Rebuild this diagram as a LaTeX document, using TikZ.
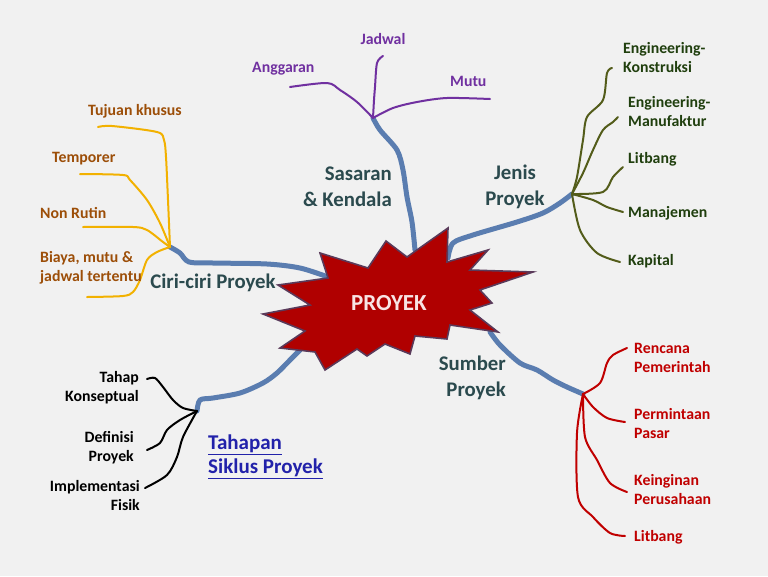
\documentclass[tikz,border=0pt]{standalone}
\usepackage{fontspec}
\setmainfont{Carlito}
\definecolor{bgc}{HTML}{F1F1F1}
\definecolor{trunkc}{HTML}{5A7DB0}
\definecolor{yel}{HTML}{F2B100}
\definecolor{brownt}{HTML}{9C4E08}
\definecolor{purp}{HTML}{7030A0}
\definecolor{olivel}{HTML}{535C1A}
\definecolor{greent}{HTML}{203F0E}
\definecolor{redc}{HTML}{C00000}
\definecolor{mainc}{HTML}{2B4A4E}
\definecolor{starfill}{HTML}{B00000}
\definecolor{starline}{HTML}{5A3A5A}
\definecolor{proyekt}{HTML}{F8E4E4}
\definecolor{linkc}{HTML}{2222AA}
\begin{document}
\begin{tikzpicture}[x=1pt,y=-1pt,
  trunk/.style={line width=5pt, draw=trunkc, line cap=round, line join=round},
  twig/.style={line width=2pt, line cap=round, line join=round},
  leaf/.style={font=\bfseries\fontsize{15.8}{19}\selectfont, inner sep=0pt},
  mainlab/.style={font=\bfseries\fontsize{20.8}{26}\selectfont, text=mainc, inner sep=0pt},
]
\fill[bgc] (0,0) rectangle (768,576);
\useasboundingbox (0,0) rectangle (768,576);

% hubs
\coordinate (hubY) at (170,247);
\coordinate (hubP) at (373,118);
\coordinate (hubG) at (572,194);
\coordinate (hubK) at (197,411);
\coordinate (hubR) at (583,394);
% trunk ends at the star
\coordinate (sY) at (328,277);
\coordinate (sP) at (415,250);
\coordinate (sG) at (448,258);
\coordinate (sR) at (490,332);
\coordinate (sK) at (300,350);

% trunks
\draw[trunk] plot[smooth, tension=0.5] coordinates {(hubY) (180,253) (189,262) (213,263) (267,264) (300,268) (sY)};
\draw[trunk] plot[smooth, tension=0.5] coordinates {(hubP) (380,130) (397,150) (403,170) (407,197) (412,222) (sP)};
\draw[trunk] plot[smooth, tension=0.5] coordinates {(hubG) (560,203) (543,213) (517,222) (473,235) (453,243) (sG)};
\draw[trunk] plot[smooth, tension=0.5] coordinates {(hubR) (567,387) (553,380) (537,370) (520,363) (500,345) (sR)};
\draw[trunk] plot[smooth, tension=0.5] coordinates {(hubK) (200,400) (213,398) (240,393) (263,383) (277,373) (290,360) (sK)};

% leaf end points
\coordinate (eY1) at (98,127);
\coordinate (eY2) at (80,174);
\coordinate (eY3) at (83,227);
\coordinate (eY4) at (87,297);
\coordinate (eP1) at (290,87);
\coordinate (eP2) at (383,56);
\coordinate (eP3) at (490,99);
\coordinate (eG1) at (612,68);
\coordinate (eG2) at (618,117);
\coordinate (eG3) at (623,167);
\coordinate (eG4) at (623,212);
\coordinate (eG5) at (620,262);
\coordinate (eR1) at (627,348);
\coordinate (eR2) at (625,422);
\coordinate (eR3) at (627,492);
\coordinate (eR4) at (625,536);
\coordinate (eK1) at (147,379);
\coordinate (eK2) at (147,450);
\coordinate (eK3) at (145,488);

% yellow twigs
\draw[twig, yel] plot[smooth, tension=0.5] coordinates {(hubY) (168,200) (166,157) (164,140) (157,132) (112,126) (eY1)};
\draw[twig, yel] plot[smooth, tension=0.5] coordinates {(hubY) (160,223) (147,200) (130,180) (123,175) (eY2)};
\draw[twig, yel] plot[smooth, tension=0.5] coordinates {(hubY) (163,242) (147,230) (133,227) (eY3)};
\draw[twig, yel] plot[smooth, tension=0.5] coordinates {(hubY) (157,252) (147,260) (140,280) (133,292) (123,296) (eY4)};
% purple twigs
\draw[twig, purp] plot[smooth, tension=0.5] coordinates {(hubP) (357,102) (340,90) (327,83) (eP1)};
\draw[twig, purp] plot[smooth, tension=0.5] coordinates {(hubP) (374,100) (375,87) (377,63) (eP2)};
\draw[twig, purp] plot[smooth, tension=0.5] coordinates {(hubP) (393,108) (417,102) (447,98) (eP3)};
% olive twigs
\draw[twig, olivel] plot[smooth, tension=0.5] coordinates {(hubG) (577,177) (583,140) (587,117) (603,100) (607,73) (eG1)};
\draw[twig, olivel] plot[smooth, tension=0.5] coordinates {(hubG) (583,173) (593,150) (603,130) (613,122) (eG2)};
\draw[twig, olivel] plot[smooth, tension=0.5] coordinates {(hubG) (603,192) (613,177) (eG3)};
\draw[twig, olivel] plot[smooth, tension=0.5] coordinates {(hubG) (593,200) (607,207) (eG4)};
\draw[twig, olivel] plot[smooth, tension=0.5] coordinates {(hubG) (580,230) (597,253) (eG5)};
% red twigs
\draw[twig, redc] plot[smooth, tension=0.5] coordinates {(hubR) (600,383) (607,363) (613,355) (eR1)};
\draw[twig, redc] plot[smooth, tension=0.5] coordinates {(hubR) (593,407) (607,418) (eR2)};
\draw[twig, redc] plot[smooth, tension=0.5] coordinates {(hubR) (585,437) (597,460) (610,483) (eR3)};
\draw[twig, redc] plot[smooth, tension=0.5] coordinates {(hubR) (577,433) (578,497) (593,517) (610,533) (eR4)};
% black twigs
\draw[twig, black] plot[smooth, tension=0.5] coordinates {(hubK) (183,408) (173,400) (163,387) (155,378) (eK1)};
\draw[twig, black] plot[smooth, tension=0.5] coordinates {(hubK) (180,420) (167,430) (160,443) (eK2)};
\draw[twig, black] plot[smooth, tension=0.5] coordinates {(hubK) (183,437) (177,457) (167,475) (eK3)};

% star
\draw[fill=starfill, draw=starline, line width=1.6pt, line join=miter]
 (320,253) -- (368,268) -- (386,241) -- (407,257) -- (448,228) -- (447,262) --
 (488,250) -- (470,270) -- (533,272) -- (480,290) -- (492,303) -- (470,310) --
 (498,332) -- (450,325) -- (447,339) -- (415,336) -- (410,354) -- (385,344) --
 (367,356) -- (357,349) -- (325,370) -- (315,352) -- (280,348) -- (305,331) --
 (263,314) -- (310,305) -- (278,285) -- (328,278) -- cycle;
\node[font=\bfseries\fontsize{23}{26}\selectfont, text=proyekt, inner sep=0pt] (proyek) at (389,303) {PROYEK};

% main labels
\node[mainlab, anchor=center] (ciri) at (213,283) {Ciri-ciri Proyek};
\node[mainlab, anchor=east, align=right] (sasaran) at (392,187) {Sasaran\\\& Kendala};
\node[mainlab, anchor=center, align=center] (jenis) at (515,187) {Jenis\\Proyek};
\node[mainlab, anchor=east, align=right] (sumber) at (506,378) {Sumber\\Proyek};
\node[font=\bfseries\fontsize{21}{24}\selectfont, text=linkc, inner sep=0pt, anchor=west, align=left] (tahapan) at (208,457) {\underline{Tahapan}\\\underline{Siklus Proyek}};

% yellow leaves
\node[leaf, text=brownt, anchor=west] (tuj) at (88,111) {Tujuan khusus};
\node[leaf, text=brownt, anchor=west] (tem) at (52,159) {Temporer};
\node[leaf, text=brownt, anchor=west] (non) at (40,213) {Non Rutin};
\node[leaf, text=brownt, anchor=west, align=left] (bia) at (40,268) {Biaya, mutu \&\\jadwal tertentu};
% purple leaves
\node[leaf, text=purp] (jad) at (383,39) {Jadwal};
\node[leaf, text=purp, anchor=west] (ang) at (252,69) {Anggaran};
\node[leaf, text=purp, anchor=west] (mut) at (450,81) {Mutu};
% green leaves
\node[leaf, text=greent, anchor=west, align=left] (ek) at (623,57.5) {Engineering-\\Konstruksi};
\node[leaf, text=greent, anchor=west, align=left] (em) at (628,111.5) {Engineering-\\Manufaktur};
\node[leaf, text=greent, anchor=west] (lit) at (628,159) {Litbang};
\node[leaf, text=greent, anchor=west] (man) at (628,213) {Manajemen};
\node[leaf, text=greent, anchor=west] (kap) at (628,261) {Kapital};
% red leaves
\node[leaf, text=redc, anchor=west, align=left] (ren) at (634,357.5) {Rencana\\Pemerintah};
\node[leaf, text=redc, anchor=west, align=left] (per) at (634,423.5) {Permintaan\\Pasar};
\node[leaf, text=redc, anchor=west, align=left] (kei) at (634,489.5) {Keinginan\\Perusahaan};
\node[leaf, text=redc, anchor=west] (litb) at (634,537) {Litbang};
% black leaves
\node[leaf, text=black, anchor=east, align=right] (tah) at (139,388) {Tahap\\Konseptual};
\node[leaf, text=black, anchor=east, align=right] (def) at (134,447.5) {Definisi\\Proyek};
\node[leaf, text=black, anchor=east, align=right] (imp) at (140,496) {Implementasi\\Fisik};
\end{tikzpicture}
\end{document}
